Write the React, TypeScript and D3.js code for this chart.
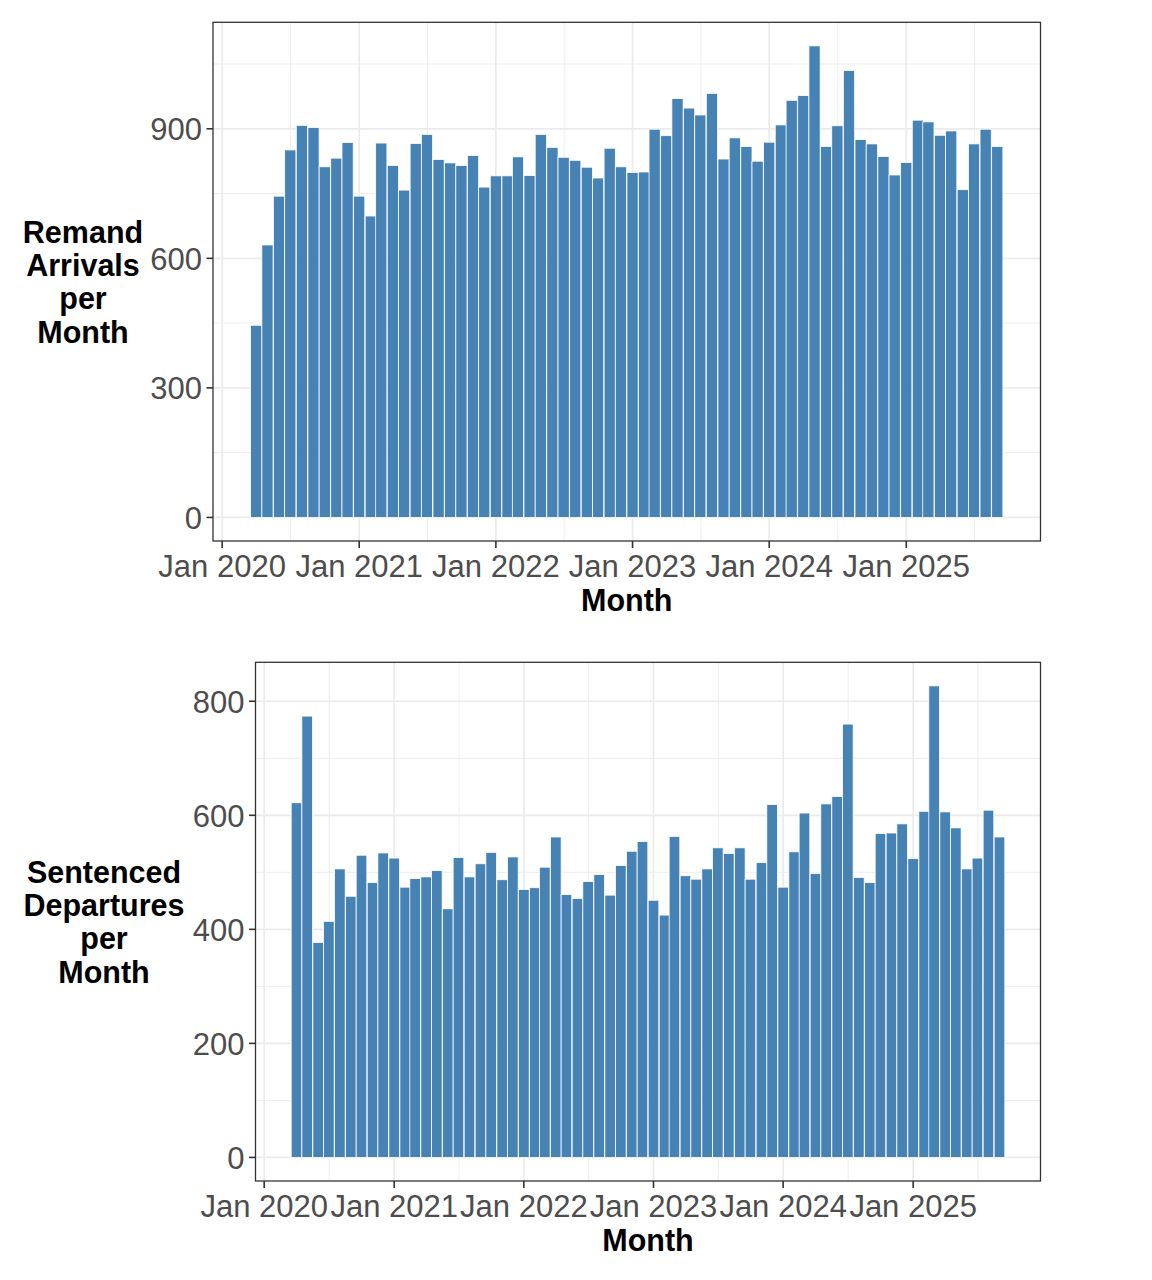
import React, { useEffect, useRef } from 'react'
import * as d3 from 'd3'

// Monthly counts, Apr 2020 .. Sep 2025
const months = d3.utcMonth.range(
  new Date(Date.UTC(2020, 3, 1)),
  new Date(Date.UTC(2025, 9, 1))
)

const remandArrivals = [
  445, 631, 744, 851, 908, 903, 812, 832, 868, 744, 698, 867, 815, 758, 866,
  887, 829, 821, 815, 838, 765, 791, 791, 835, 792, 887, 857, 834, 827, 811,
  786, 855, 812, 799, 800, 899, 884, 970, 948, 932, 982, 830, 879, 859, 825,
  869, 909, 966, 977, 1092, 859, 907, 1035, 875, 865, 836, 793, 822, 920, 916,
  885, 895, 759, 865, 899, 859,
]

const sentencedDepartures = [
  622, 774, 377, 414, 506, 458, 530, 482, 534, 525, 474, 489, 492, 503, 436,
  526, 492, 515, 535, 487, 527, 470, 473, 509, 562, 461, 454, 484, 496, 460,
  512, 537, 554, 451, 425, 563, 494, 488, 506, 543, 533, 543, 488, 517, 619,
  474, 536, 604, 498, 620, 633, 760, 491, 482, 568, 569, 585, 524, 607, 827,
  606, 578, 506, 525, 609, 562,
]

const tickYears = [2020, 2021, 2022, 2023, 2024, 2025]
const arrivalTicks = [0, 300, 600, 900]
const departureTicks = [0, 200, 400, 600, 800]

const FONT = "'Liberation Sans', Arial, sans-serif"
const DAY = 24 * 3600 * 1000

interface Box {
  left: number
  right: number
  top: number
  bottom: number
}

function drawPanel(
  root: d3.Selection<SVGGElement, unknown, null, undefined>,
  values: number[],
  yTicks: number[],
  titleLines: string[],
  titleX: number,
  box: Box
) {
  const g = root.append('g')

  // x domain like ggplot: bar extent + 5% each side
  const half = 15 * DAY
  const lo = +months[0] - half
  const hi = +months[months.length - 1] + half
  const pad = (hi - lo) * 0.05
  const x = d3
    .scaleUtc()
    .domain([new Date(lo - pad), new Date(hi + pad)])
    .range([box.left, box.right])

  const yMax = d3.max(values) || 0
  const y = d3
    .scaleLinear()
    .domain([-yMax * 0.05, yMax * 1.05])
    .range([box.bottom, box.top])

  const majorX = tickYears.map((yr) => new Date(Date.UTC(yr, 0, 1)))
  const allYears = [tickYears[0] - 1, ...tickYears, tickYears[tickYears.length - 1] + 1]
  const minorX = d3
    .pairs(allYears.map((yr) => Date.UTC(yr, 0, 1)))
    .map(([a, b]) => (a + b) / 2)
    .filter((t) => t > lo - pad && t < hi + pad)

  const step = yTicks[1] - yTicks[0]
  const [d0, d1] = y.domain()
  const minorY = d3
    .range(yTicks[0] - step / 2, yTicks[yTicks.length - 1] + step, step)
    .filter((v) => v > d0 && v < d1)

  // grid
  g.append('g')
    .selectAll('line')
    .data(minorY)
    .join('line')
    .attr('x1', box.left)
    .attr('x2', box.right)
    .attr('y1', (d) => y(d))
    .attr('y2', (d) => y(d))
    .attr('stroke', '#EBEBEB')
    .attr('stroke-width', 0.9)
  g.append('g')
    .selectAll('line')
    .data(minorX)
    .join('line')
    .attr('x1', (d) => x(d))
    .attr('x2', (d) => x(d))
    .attr('y1', box.top)
    .attr('y2', box.bottom)
    .attr('stroke', '#EBEBEB')
    .attr('stroke-width', 0.9)
  g.append('g')
    .selectAll('line')
    .data(yTicks)
    .join('line')
    .attr('x1', box.left)
    .attr('x2', box.right)
    .attr('y1', (d) => y(d))
    .attr('y2', (d) => y(d))
    .attr('stroke', '#EBEBEB')
    .attr('stroke-width', 1.7)
  g.append('g')
    .selectAll('line')
    .data(majorX)
    .join('line')
    .attr('x1', (d) => x(d))
    .attr('x2', (d) => x(d))
    .attr('y1', box.top)
    .attr('y2', box.bottom)
    .attr('stroke', '#EBEBEB')
    .attr('stroke-width', 1.7)

  // bars
  g.append('g')
    .selectAll('rect')
    .data(values)
    .join('rect')
    .attr('x', (_, i) => x(new Date(+months[i] - half)))
    .attr('width', (_, i) => x(new Date(+months[i] + half)) - x(new Date(+months[i] - half)))
    .attr('y', (d) => y(d))
    .attr('height', (d) => y(0) - y(d))
    .attr('fill', 'steelblue')
    .attr('stroke', 'white')
    .attr('stroke-width', 0.8)

  // panel border
  g.append('rect')
    .attr('x', box.left)
    .attr('y', box.top)
    .attr('width', box.right - box.left)
    .attr('height', box.bottom - box.top)
    .attr('fill', 'none')
    .attr('stroke', '#333333')
    .attr('stroke-width', 1.3)

  // y ticks + labels
  g.append('g')
    .selectAll('line')
    .data(yTicks)
    .join('line')
    .attr('x1', box.left - 6.5)
    .attr('x2', box.left)
    .attr('y1', (d) => y(d))
    .attr('y2', (d) => y(d))
    .attr('stroke', '#333333')
    .attr('stroke-width', 1.6)
  g.append('g')
    .selectAll('text')
    .data(yTicks)
    .join('text')
    .attr('x', box.left - 11)
    .attr('y', (d) => y(d))
    .attr('dy', '0.37em')
    .attr('text-anchor', 'end')
    .attr('font-family', FONT)
    .attr('font-size', 31)
    .attr('fill', '#4D4D4D')
    .text((d) => d.toString())

  // x ticks + labels
  g.append('g')
    .selectAll('line')
    .data(majorX)
    .join('line')
    .attr('x1', (d) => x(d))
    .attr('x2', (d) => x(d))
    .attr('y1', box.bottom)
    .attr('y2', box.bottom + 7)
    .attr('stroke', '#333333')
    .attr('stroke-width', 1.6)
  g.append('g')
    .selectAll('text')
    .data(majorX)
    .join('text')
    .attr('x', (d) => x(d))
    .attr('y', box.bottom + 35.5)
    .attr('text-anchor', 'middle')
    .attr('font-family', FONT)
    .attr('font-size', 31)
    .attr('fill', '#4D4D4D')
    .text((d) => d3.utcFormat('%b %Y')(d))

  // axis titles
  g.append('text')
    .attr('x', (box.left + box.right) / 2)
    .attr('y', box.bottom + 70)
    .attr('text-anchor', 'middle')
    .attr('font-family', FONT)
    .attr('font-size', 30.5)
    .attr('font-weight', 'bold')
    .attr('fill', 'black')
    .text('Month')

  const mid = (box.top + box.bottom) / 2
  const lh = 33.4
  g.append('g')
    .selectAll('text')
    .data(titleLines)
    .join('text')
    .attr('x', titleX)
    .attr('y', (_, i) => mid + (i - (titleLines.length - 1) / 2) * lh + 11)
    .attr('text-anchor', 'middle')
    .attr('font-family', FONT)
    .attr('font-size', 30.5)
    .attr('font-weight', 'bold')
    .attr('fill', 'black')
    .text((d) => d)
}

const App: React.FC = () => {
  const svgRef = useRef<SVGSVGElement | null>(null)

  useEffect(() => {
    if (!svgRef.current) return
    const svg = d3.select(svgRef.current)
    svg.selectAll('*').remove()
    const root = svg.append('g')

    drawPanel(root, remandArrivals, arrivalTicks, ['Remand', 'Arrivals', 'per', 'Month'], 83, {
      left: 213,
      right: 1040.5,
      top: 22.3,
      bottom: 541,
    })
    drawPanel(
      root,
      sentencedDepartures,
      departureTicks,
      ['Sentenced', 'Departures', 'per', 'Month'],
      104,
      { left: 255.5, right: 1040.5, top: 662.3, bottom: 1181 }
    )
  }, [])

  return (
    <svg
      ref={svgRef}
      width={1152}
      height={1280}
      style={{ position: 'absolute', left: 0, top: 0, background: 'white' }}
    ></svg>
  )
}

export default App
